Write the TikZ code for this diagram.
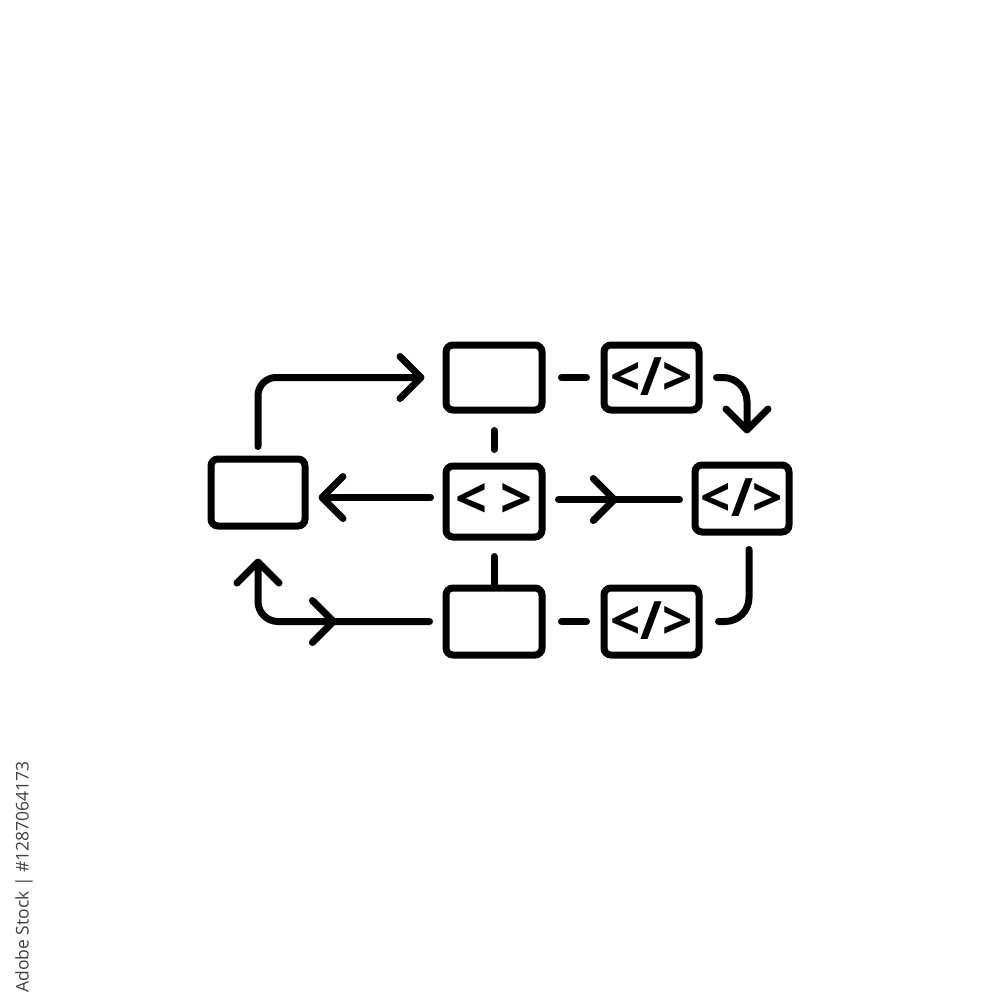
\documentclass[tikz,border=0pt]{standalone}
\usepackage{fontspec}
\newfontfamily\codefont{Open Sans}
\usetikzlibrary{arrows.meta,calc,decorations.markings}
\tikzset{barb/.tip={Straight Barb[length=21pt,width=42pt,round]}}
\begin{document}
\begin{tikzpicture}[x=1pt,y=-1pt,
  box/.style={draw, line width=7pt, rounded corners=7pt, inner sep=0pt},
  link/.style={line width=7pt, line cap=round, line join=round},
  code/.style={font=\codefont\bfseries\fontsize{53}{53}\selectfont, inner sep=0pt},
  bigcode/.style={font=\codefont\bfseries\fontsize{56}{56}\selectfont, inner sep=0pt},
  midarrow/.style={decoration={markings, mark=at position #1 with {\arrow{barb}}}, postaction={decorate}},
  midarrowrev/.style={decoration={markings, mark=at position #1 with {\arrowreversed{barb}}}, postaction={decorate}},
]
\fill[white] (0,0) rectangle (1000,1000);
\useasboundingbox (0,0) rectangle (1000,1000);

% boxes
\node[box, minimum width=94pt, minimum height=67pt] (L) at (258,492.5) {};
\node[box, minimum width=96pt, minimum height=65pt] (TM) at (494,377.5) {};
\node[box, minimum width=96pt, minimum height=71pt] (M) at (494,501.5) {};
\node[box, minimum width=96pt, minimum height=67pt] (B) at (494,621.5) {};
\node[box, minimum width=95pt, minimum height=65pt] (TR) at (651.5,377.5) {};
\node[box, minimum width=94pt, minimum height=67pt] (R) at (742,498.5) {};
\node[box, minimum width=95pt, minimum height=67pt] (BR) at (651.5,621.5) {};

% code labels
\node[bigcode] (Mt) at (494,501) {<\kern13pt>};
\node[code] (TRt) at (651.5,377) {</>};
\node[code] (Rt) at (742,498) {</>};
\node[code] (BRt) at (651.5,621) {</>};

% connectors
\draw[link, -{barb}, rounded corners=18pt] ($(L.north)+(0,-9)$) |- ($(TM.west)+(-18,0)$);
\draw[link, -{barb}] ($(M.west)+(-12,-4)$) -- ($(L.east)+(10,5)$);
\draw[link, midarrow=0.49] ($(M.east)+(13,-2)$) -- ($(R.west)+(-12,1)$);
\draw[link, -{barb}, rounded corners=20pt, midarrowrev=0.41] ($(B.west)+(-13,0)$) -| ($(L.south)+(0,29)$);
\draw[link] ($(TM.south)+(0,17)$) -- ($(M.north)+(0,-13)$);
\draw[link] ($(M.south)+(0,16)$) -- (B.north);
\draw[link] ($(TM.east)+(16,0)$) -- ($(TR.west)+(-14,0)$);
\draw[link] ($(B.east)+(16,0)$) -- ($(BR.west)+(-14,0)$);
\draw[link, -{barb}, rounded corners=24pt] ($(TR.east)+(14,0)$) -| ($(R.north)+(5,-28)$);
\draw[link, rounded corners=24pt] ($(R.south)+(7,14)$) |- ($(BR.east)+(16,0)$);

% watermark
\node[rotate=90, text=black!75, font=\codefont\fontsize{17.5}{17.5}\selectfont] (wm) at (24,877) {Adobe Stock | \#1287064173};
\end{tikzpicture}
\end{document}
